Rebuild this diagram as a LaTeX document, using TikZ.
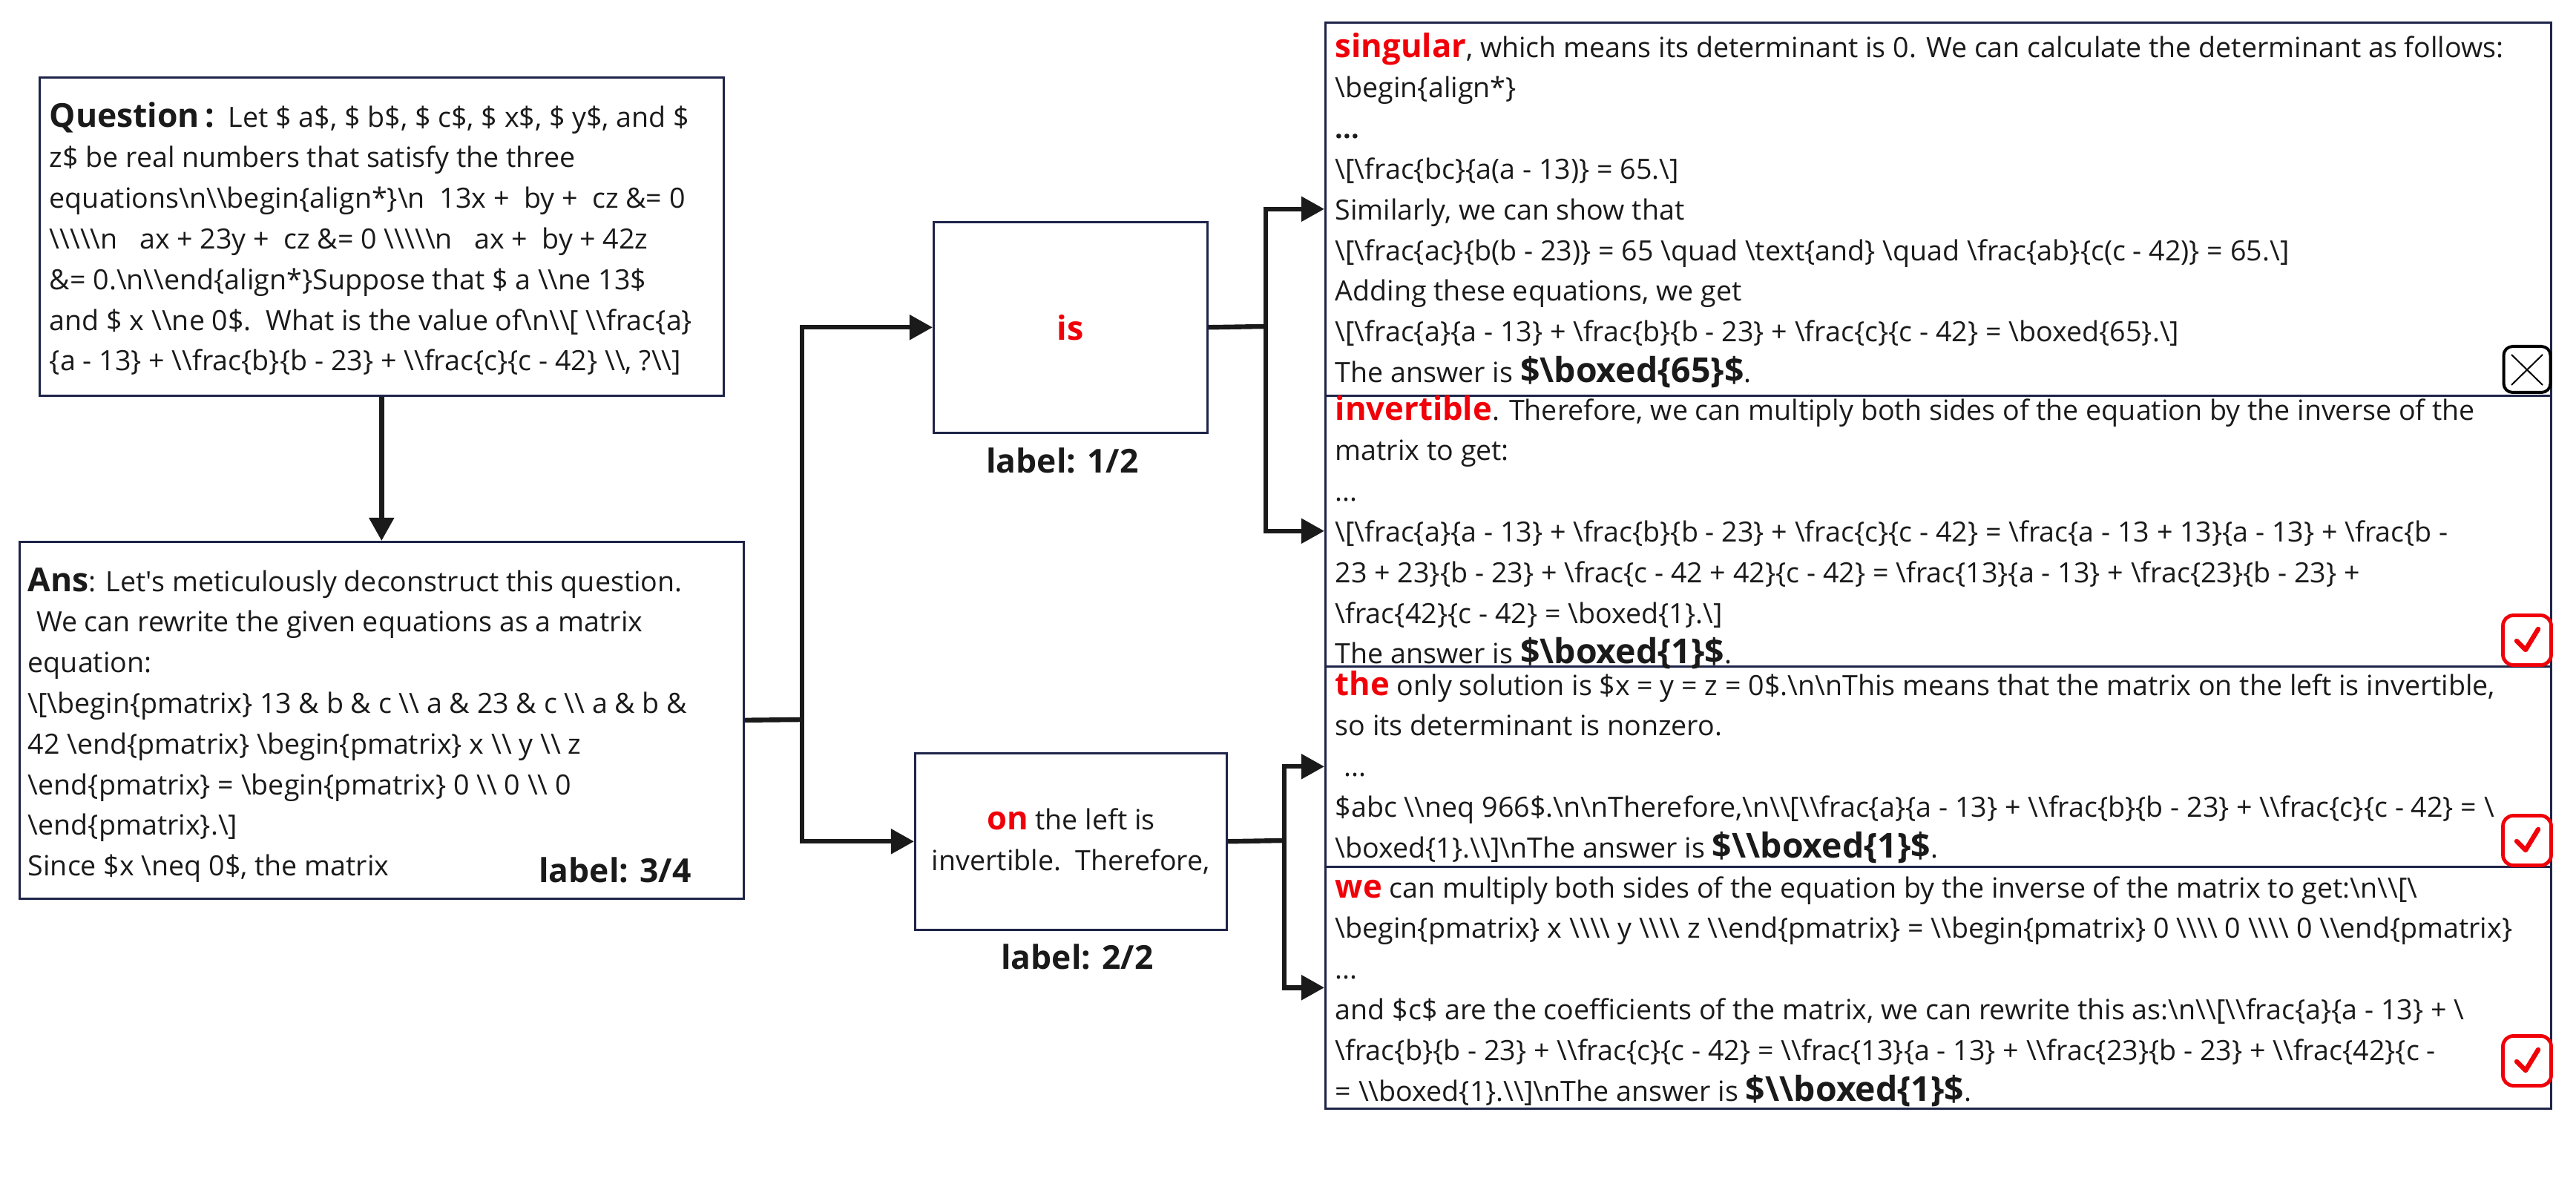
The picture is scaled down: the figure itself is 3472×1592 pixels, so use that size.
\documentclass[tikz,border=0pt]{standalone}
\usepackage{fontspec}
\setmainfont{Open Sans}
\usetikzlibrary{arrows.meta}
\definecolor{navy}{RGB}{30,36,72}
\definecolor{hl}{RGB}{240,0,8}
\definecolor{ink}{RGB}{26,26,26}
\newcommand\bsl{\textbackslash}
\newcommand\dbs{\textbackslash\textbackslash}
\newcommand\fsz{\fontsize{9.4}{13.7}\selectfont}
\newcommand\hlw[1]{{\color{hl}\bfseries\fontsize{10.9}{13.7}\selectfont #1}}
\newcommand\ansb[1]{{\bfseries\fontsize{11.6}{13.7}\selectfont #1}}
\newcommand\bigb[1]{{\bfseries\fontsize{11.1}{13.7}\selectfont #1}}
\begin{document}
\begin{tikzpicture}[x=0.25pt,y=-0.25pt,
  box/.style={draw=navy,line width=0.65pt,inner sep=0pt,anchor=north west},
  txt/.style={anchor=north west,inner sep=0pt,align=left,font=\fsz,text=ink},
  lbl/.style={inner sep=0pt,font=\bfseries\fontsize{11.1}{13.7}\selectfont,text=ink},
  conn/.style={draw=ink,line width=1.6pt},
  arr/.style={conn,-{Triangle[length=7.8pt,width=8.2pt]}},
  okbox/.style={draw=hl,line width=1.2pt,rounded corners=3.5pt,minimum width=16.25pt,minimum height=16.75pt,inner sep=0pt},
  nobox/.style={draw=black,line width=1pt,rounded corners=3pt,minimum width=15.75pt,minimum height=15.5pt,inner sep=0pt}]
\useasboundingbox (0,0) rectangle (3472,1592);

% question and answer boxes
\node[box,minimum width=230.5pt,minimum height=107.25pt] (q) at (52,103) {};
\node[txt] (qt) at ([shift={(14,29)}]q.north west) {\strut\bigb{Question\,:}\enspace Let \$ a\$, \$ b\$, \$ c\$, \$ x\$, \$ y\$, and \$\\
z\$ be real numbers that satisfy the three\\
equations\bsl n\dbs begin\{align*\}\bsl n\ \ 13x +\ \ by +\ \ cz \&= 0\\
\dbs\dbs\bsl n\ \ \ ax + 23y +\ \ cz \&= 0 \dbs\dbs\bsl n\ \ \ ax +\ \ by + 42z\\
\&= 0.\bsl n\dbs end\{align*\}Suppose that \$ a \dbs ne 13\$\\
and \$ x \dbs ne 0\$.\ \ What is the value of\bsl n\dbs[ \dbs frac\{a\}\\
\{a - 13\} + \dbs frac\{b\}\{b - 23\} + \dbs frac\{c\}\{c - 42\} \dbs, ?\dbs]};

\node[box,minimum width=244pt,minimum height=120.25pt] (a) at (25,729) {};
\node[txt] (at) at ([shift={(12,29)}]a.north west) {\strut\bigb{Ans}: Let\textquotesingle s meticulously deconstruct this question.\\
\hspace{0.3em}We can rewrite the given equations as a matrix\\
equation:\\
\bsl[\bsl begin\{pmatrix\} 13 \& b \& c \dbs{} a \& 23 \& c \dbs{} a \& b \&\\
42 \bsl end\{pmatrix\} \bsl begin\{pmatrix\} x \dbs{} y \dbs{} z\\
\bsl end\{pmatrix\} = \bsl begin\{pmatrix\} 0 \dbs{} 0 \dbs{} 0\\
\bsl end\{pmatrix\}.\bsl]\\
Since \$x \bsl neq 0\$, the matrix};
\node[lbl] (l34) at (829,1173) {label: 3/4};

% middle boxes
\node[box,minimum width=92.25pt,minimum height=71pt,font=\color{hl}\bfseries\fontsize{11.2}{13.7}\selectfont] (is) at (1257,298) {is};
\node[lbl] (l12) at (1432,621) {label: 1/2};
\node[box,minimum width=105pt,minimum height=59.5pt,align=center,font=\fsz,text=ink] (on) at (1232,1014) {\hlw{on} the left is\\invertible.\ \ Therefore,};
\node[lbl] (l22) at (1452,1290) {label: 2/2};

% right boxes
\node[box,minimum width=413pt,minimum height=125.75pt] (r1) at (1785,29) {};
\node[box,minimum width=413pt,minimum height=91.25pt] (r2) at (1785,532) {};
\node[box,minimum width=413pt,minimum height=67.5pt] (r3) at (1785,897) {};
\node[box,minimum width=413pt,minimum height=81.5pt] (r4) at (1785,1167) {};

\node[txt] (t1) at ([shift={(14,9)}]r1.north west) {\strut\hlw{singular}, which means its determinant is 0. We can calculate the determinant as follows:\\
\bsl begin\{align*\}\\
{\bfseries ...}\\
\bsl[\bsl frac\{bc\}\{a(a - 13)\} = 65.\bsl]\\
Similarly, we can show that\\
\bsl[\bsl frac\{ac\}\{b(b - 23)\} = 65 \bsl quad \bsl text\{and\} \bsl quad \bsl frac\{ab\}\{c(c - 42)\} = 65.\bsl]\\
Adding these equations, we get\\
\bsl[\bsl frac\{a\}\{a - 13\} + \bsl frac\{b\}\{b - 23\} + \bsl frac\{c\}\{c - 42\} = \bsl boxed\{65\}.\bsl]\\
The answer is \ansb{\$\bsl boxed\{65\}\$}.};

\node[txt] (t2) at ([shift={(14,-5)}]r2.north west) {\strut\hlw{invertible}. Therefore, we can multiply both sides of the equation by the inverse of the\\
matrix to get:\\
...\\
\bsl[\bsl frac\{a\}\{a - 13\} + \bsl frac\{b\}\{b - 23\} + \bsl frac\{c\}\{c - 42\} = \bsl frac\{a - 13 + 13\}\{a - 13\} + \bsl frac\{b -\\
23 + 23\}\{b - 23\} + \bsl frac\{c - 42 + 42\}\{c - 42\} = \bsl frac\{13\}\{a - 13\} + \bsl frac\{23\}\{b - 23\} +\\
\bsl frac\{42\}\{c - 42\} = \bsl boxed\{1\}.\bsl]\\
The answer is \ansb{\$\bsl boxed\{1\}\$}.};

\node[txt] (t3) at ([shift={(14,1)}]r3.north west) {\strut\hlw{the} only solution is \$x = y = z = 0\$.\bsl n\bsl nThis means that the matrix on the left is invertible,\\
so its determinant is nonzero.\\
\hspace{0.3em}...\\
\$abc \dbs neq 966\$.\bsl n\bsl nTherefore,\bsl n\dbs[\dbs frac\{a\}\{a - 13\} + \dbs frac\{b\}\{b - 23\} + \dbs frac\{c\}\{c - 42\} = \bsl\\
\bsl boxed\{1\}.\dbs]\bsl nThe answer is \ansb{\$\dbs boxed\{1\}\$}.};

\node[txt] (t4) at ([shift={(14,4)}]r4.north west) {\strut\hlw{we} can multiply both sides of the equation by the inverse of the matrix to get:\bsl n\dbs[\bsl\\
\bsl begin\{pmatrix\} x \dbs\dbs{} y \dbs\dbs{} z \dbs end\{pmatrix\} = \dbs begin\{pmatrix\} 0 \dbs\dbs{} 0 \dbs\dbs{} 0 \dbs end\{pmatrix\}\\
...\\
and \$c\$ are the coefficients of the matrix, we can rewrite this as:\bsl n\dbs[\dbs frac\{a\}\{a - 13\} + \bsl\\
\bsl frac\{b\}\{b - 23\} + \dbs frac\{c\}\{c - 42\} = \dbs frac\{13\}\{a - 13\} + \dbs frac\{23\}\{b - 23\} + \dbs frac\{42\}\{c -\\
= \dbs boxed\{1\}.\dbs]\bsl nThe answer is \ansb{\$\dbs boxed\{1\}\$}.};

% verdict marks
\node[nobox,fill=white] (x1) at (3406,498) {};
\draw[black,line width=0.5pt] ([shift={(-21,-20)}]x1.center) -- ([shift={(21,21)}]x1.center)
  ([shift={(21,-20)}]x1.center) -- ([shift={(-21,21)}]x1.center);
\foreach \n/\yy in {c2/863,c3/1133,c4/1430}{
  \node[okbox,fill=white] (\n) at (3406,\yy) {};
  \draw[hl,line width=1.6pt,line cap=round,line join=round] ([shift={(-14,1)}]\n.center) -- ([shift={(-2,13)}]\n.center) -- ([shift={(15,-15)}]\n.center);
}

% connectors
\draw[arr] (q.south) -- (a.north);
\coordinate (j1) at (1081,970);
\draw[conn] (a.east) -- (j1);
\draw[arr] (j1) |- (is.west);
\draw[arr] (j1) |- (on.west);
\coordinate (j2) at (1706,440);
\draw[conn] (is.east) -- (j2);
\draw[arr] (j2) |- (r1.west);
\draw[arr] (j2) |- (r2.west);
\coordinate (j3) at (1731,1133);
\draw[conn] (on.east) -- (j3);
\draw[arr] (j3) |- (r3.west);
\draw[arr] (j3) |- (r4.west);
\end{tikzpicture}
\end{document}
